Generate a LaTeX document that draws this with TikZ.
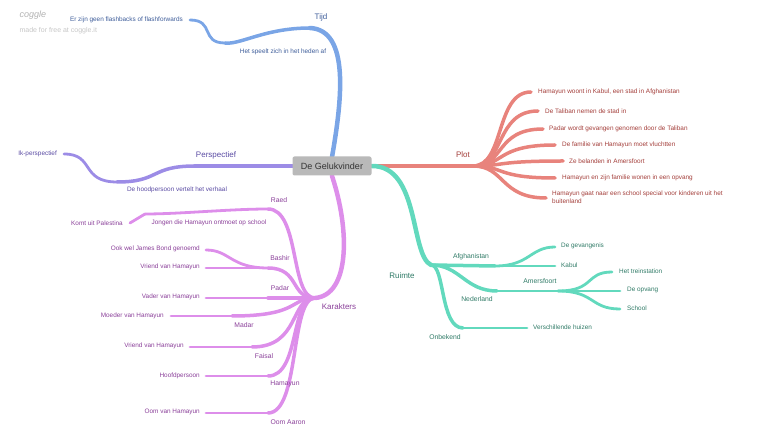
\documentclass[tikz,border=0pt]{standalone}
\usepackage{fontspec}
\setmainfont{Liberation Sans}
\begin{document}
\begin{tikzpicture}[x=1pt,y=-1pt,line cap=round,
 br/.style={line width=4.5pt},
 sb/.style={line width=3.5pt},
 lf/.style={line width=2.8pt},
 lab/.style={font=\fontsize{8}{9}\selectfont,inner sep=1pt},
 leaf/.style={font=\fontsize{6.4}{7.5}\selectfont,inner sep=1pt},
 blu/.style={draw=bluC}, pur/.style={draw=purC}, vio/.style={draw=vioC}, red/.style={draw=redC}, tea/.style={draw=teaC}]
\definecolor{bluC}{HTML}{7AA5E6}\definecolor{bluT}{HTML}{3D5C99}
\definecolor{purC}{HTML}{9C8CE6}\definecolor{purT}{HTML}{5A4BA3}
\definecolor{vioC}{HTML}{DD8EEA}\definecolor{vioT}{HTML}{8A3F99}
\definecolor{redC}{HTML}{E8837C}\definecolor{redT}{HTML}{A33E3A}
\definecolor{teaC}{HTML}{62D9BD}\definecolor{teaT}{HTML}{2F7A66}
\useasboundingbox (0,0) rectangle (768,443);
\node[font=\fontsize{9}{10}\selectfont\itshape,text=gray!60,anchor=west] (cg) at (16,15) {coggle};
\node[font=\fontsize{7}{8}\selectfont,text=gray!45,anchor=west] (cgm) at (16,31) {made for free at coggle.it};
% ---- coordinates
\coordinate (cT) at (332,157); \coordinate (cB) at (332,176);
\coordinate (cL) at (293,166); \coordinate (cR) at (372,166);
% Tijd
\coordinate (tj) at (310,28); \coordinate (tj2) at (225,43); \coordinate (tj3) at (190,20);
\draw[blu,br] (cT) .. controls (342,100) and (350,30) .. (tj);
\draw[blu,sb] (tj) .. controls (265,28) and (240,45) .. (tj2);
\draw[blu,lf] (tj2) .. controls (200,43) and (215,20) .. (tj3);
\node[lab,text=bluT] (tijd) at (321,17) {Tijd};
\node[leaf,text=bluT] (hs) at (283,52) {Het speelt zich in het heden af};
\node[leaf,text=bluT,anchor=east] (ez) at (184,20) {Er zijn geen flashbacks of flashforwards};
% Perspectief
\coordinate (p1) at (195,166); \coordinate (p2) at (117,182); \coordinate (p3) at (64,154);
\draw[pur,br] (cL) -- (p1);
\draw[pur,sb] (p1) .. controls (150,166) and (160,182) .. (p2);
\draw[pur,lf] (p2) .. controls (80,182) and (95,154) .. (p3);
\node[lab,text=purT] (ps) at (216,155) {Perspectief};
\node[leaf,text=purT] (hv) at (177,190) {De hoodpersoon vertelt het verhaal};
\node[leaf,text=purT,anchor=east] (ik) at (58,154) {Ik-perspectief};
% Karakters
\coordinate (kh) at (315,298);
\draw[vio,br] (cB) .. controls (350,230) and (350,295) .. (kh);
\node[lab,text=vioT] (kar) at (339,307) {Karakters};
\foreach \nm/\y/\ex in {raed/209/268, bashir/268/268, padar/298/268, madar/316/232, faisal/347/252, ham/376/268, aaron/413/268}{
  \coordinate (\nm) at (\ex,\y);
  \draw[vio,sb] (kh) .. controls (290,298) and (300,\y) .. (\nm);
}
\tikzset{kl/.style={inner sep=1pt,font=\fontsize{6.8}{8}\selectfont,text=vioT}}
\node[kl] (lraed) at (279,200) {Raed};
\node[kl] (lbas) at (280,258) {Bashir};
\node[kl] (lpad) at (280,288) {Padar};
\node[kl] (lmad) at (244,325) {Madar};
\node[kl] (lfai) at (264,356) {Faisal};
\node[kl] (lham) at (285,384) {Hamayun};
\node[kl] (laar) at (288,422) {Oom Aaron};
\coordinate (r1) at (145,214); \coordinate (r2) at (130,223);
\draw[vio,lf] (raed) .. controls (230,209) and (180,214) .. (r1);
\draw[vio,lf] (r1) -- (r2);
\node[leaf,text=vioT] (jd) at (209,223) {Jongen die Hamayun ontmoet op school};
\node[leaf,text=vioT,anchor=east] (kp) at (124,223) {Komt uit Palestina};
\coordinate (b1) at (206,268); \coordinate (b2) at (206,250);
\draw[vio,lf] (bashir) -- (b1);
\draw[vio,lf] (bashir) .. controls (230,268) and (230,250) .. (b2);
\node[leaf,text=vioT,anchor=east] (jb) at (201,249) {Ook wel James Bond genoemd};
\node[leaf,text=vioT,anchor=east] (vb) at (201,267) {Vriend van Hamayun};
\coordinate (pa1) at (206,298); \draw[vio,lf] (padar) -- (pa1);
\node[leaf,text=vioT,anchor=east] (vp) at (201,297) {Vader van Hamayun};
\coordinate (m1) at (171,316); \draw[vio,lf] (madar) -- (m1);
\node[leaf,text=vioT,anchor=east] (mm) at (165,316) {Moeder van Hamayun};
\coordinate (f1) at (190,347); \draw[vio,lf] (faisal) -- (f1);
\node[leaf,text=vioT,anchor=east] (vf) at (185,346) {Vriend van Hamayun};
\coordinate (h1) at (206,376); \draw[vio,lf] (ham) -- (h1);
\node[leaf,text=vioT,anchor=east] (hp) at (201,376) {Hoofdpersoon};
\coordinate (a1) at (206,413); \draw[vio,lf] (aaron) -- (a1);
\node[leaf,text=vioT,anchor=east] (oh) at (201,412) {Oom van Hamayun};
% Plot
\coordinate (ph) at (473,166);
\draw[red,br] (cR) -- (ph);
\node[lab,text=redT] (plot) at (463,155) {Plot};
\foreach \nm/\ex/\y/\tx/\tt in {
 p1/531/92/537/{Hamayun woont in Kabul, een stad in Afghanistan},
 p2/538/111/544/{De Taliban nemen de stad in},
 p3/543/129/548/{Padar wordt gevangen genomen door de Taliban},
 p4/555/145/561/{De familie van Hamayun moet vluchtten},
 p5/563/161/568/{Ze belanden in Amersfoort},
 p6/555/178/561/{Hamayun en zijn familie wonen in een opvang}}{
  \coordinate (e\nm) at (\ex,\y);
  \draw[red,sb] (ph) .. controls (505,166) and (495,\y) .. (e\nm);
  \node[leaf,text=redT,anchor=west] (t\nm) at (\tx,\y) {\tt};
}
\coordinate (ep7) at (546,198);
\draw[red,sb] (ph) .. controls (505,166) and (500,198) .. (ep7);
\node[leaf,text=redT,anchor=west,align=left] (tp7) at (551,197) {Hamayun gaat naar een school special voor kinderen uit het\\buitenland};
% Ruimte
\coordinate (rh) at (431,265);
\draw[tea,br] (cR) .. controls (420,166) and (410,255) .. (rh);
\node[lab,text=teaT] (ruimte) at (402,276) {Ruimte};
\coordinate (af) at (495,266); \coordinate (nl) at (497,291); \coordinate (ob) at (463,328);
\draw[tea,sb] (rh) -- (af);
\draw[tea,sb] (rh) .. controls (460,265) and (465,291) .. (nl);
\draw[tea,sb] (rh) .. controls (445,265) and (440,328) .. (ob);
\tikzset{rl/.style={inner sep=1pt,font=\fontsize{6.8}{8}\selectfont,text=teaT}}
\node[rl] (laf) at (471,257) {Afghanistan};
\node[rl] (lnl) at (477,299) {Nederland};
\node[rl] (lob) at (445,337) {Onbekend};
\coordinate (dg) at (555,247); \coordinate (kb) at (555,266);
\draw[tea,lf] (af) -- (kb);
\draw[tea,lf] (af) .. controls (530,266) and (530,247) .. (dg);
\node[leaf,text=teaT,anchor=west] (tdg) at (560,246) {De gevangenis};
\node[leaf,text=teaT,anchor=west] (tkb) at (560,265) {Kabul};
\coordinate (am) at (558,291);
\draw[tea,lf] (nl) -- (am);
\node[rl] (lam) at (540,281) {Amersfoort};
\coordinate (ht) at (612,272); \coordinate (dop) at (620,291); \coordinate (sc) at (620,309);
\draw[tea,lf] (am) .. controls (595,291) and (585,272) .. (ht);
\draw[tea,lf] (am) -- (dop);
\draw[tea,lf] (am) .. controls (595,291) and (590,309) .. (sc);
\node[leaf,text=teaT,anchor=west] (tht) at (618,271) {Het treinstation};
\node[leaf,text=teaT,anchor=west] (tdo) at (626,290) {De opvang};
\node[leaf,text=teaT,anchor=west] (tsc) at (626,308) {School};
\coordinate (vh) at (527,328);
\draw[tea,lf] (ob) -- (vh);
\node[leaf,text=teaT,anchor=west] (tvh) at (532,327) {Verschillende huizen};
% centre
\node[fill=gray!55,rounded corners=2pt,minimum width=79pt,minimum height=19pt,font=\fontsize{9}{10}\selectfont,text=black!80] (c) at (332,166) {De Gelukvinder};
\end{tikzpicture}
\end{document}
